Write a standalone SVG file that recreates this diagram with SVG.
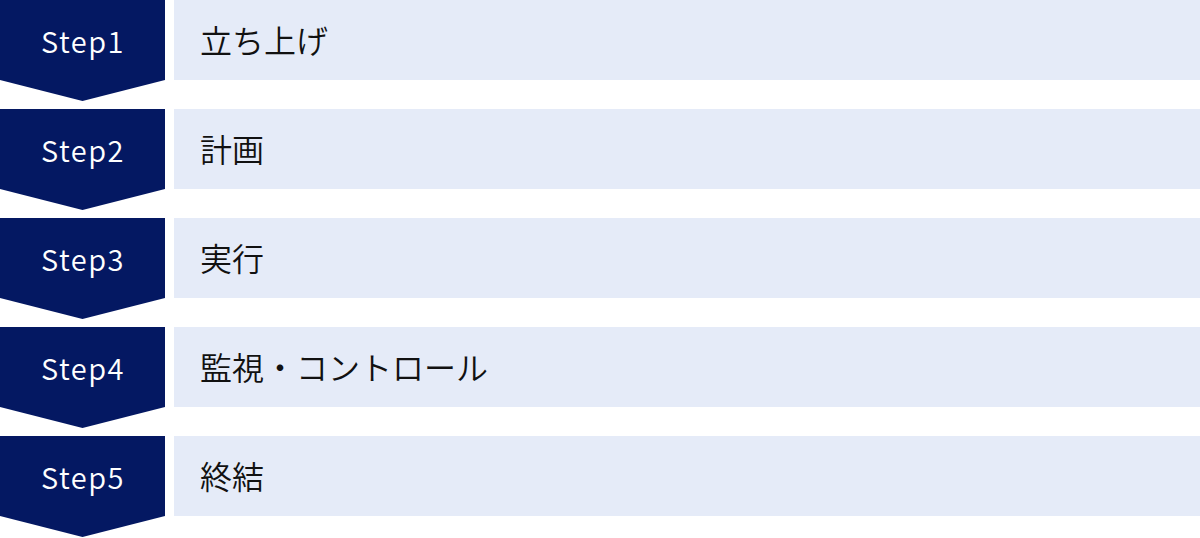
<svg xmlns="http://www.w3.org/2000/svg" width="1200" height="538" viewBox="0 0 1200 538">
<style>
.arrow{fill:#041862}
.box{fill:#E5EBF8}
.lbl{font-family:"Noto Sans CJK JP","Noto Sans",sans-serif;font-size:29px;font-weight:350;fill:#ffffff;text-anchor:middle;letter-spacing:1.5px}
.txt{font-family:"Noto Sans CJK JP","Noto Sans",sans-serif;font-size:32px;font-weight:350;fill:#111111}
</style>
<rect width="1200" height="538" fill="#ffffff"/>
<g id="step1">
<path class="arrow" d="M0,0 H165 V80 L82.5,101 L0,80 Z"/>
<rect class="box" x="174" y="0" width="1026" height="80"/>
<text class="lbl" x="83" y="53">Step1</text>
<text class="txt" x="200" y="53">立ち上げ</text>
</g>
<g id="step2">
<path class="arrow" d="M0,109 H165 V189 L82.5,210 L0,189 Z"/>
<rect class="box" x="174" y="109" width="1026" height="80"/>
<text class="lbl" x="83" y="162">Step2</text>
<text class="txt" x="200" y="162">計画</text>
</g>
<g id="step3">
<path class="arrow" d="M0,218 H165 V298 L82.5,319 L0,298 Z"/>
<rect class="box" x="174" y="218" width="1026" height="80"/>
<text class="lbl" x="83" y="271">Step3</text>
<text class="txt" x="200" y="271">実行</text>
</g>
<g id="step4">
<path class="arrow" d="M0,327 H165 V407 L82.5,428 L0,407 Z"/>
<rect class="box" x="174" y="327" width="1026" height="80"/>
<text class="lbl" x="83" y="380">Step4</text>
<text class="txt" x="200" y="380">監視・コントロール</text>
</g>
<g id="step5">
<path class="arrow" d="M0,436 H165 V516 L82.5,537 L0,516 Z"/>
<rect class="box" x="174" y="436" width="1026" height="80"/>
<text class="lbl" x="83" y="489">Step5</text>
<text class="txt" x="200" y="489">終結</text>
</g>
<g id="connectors"></g>
</svg>
